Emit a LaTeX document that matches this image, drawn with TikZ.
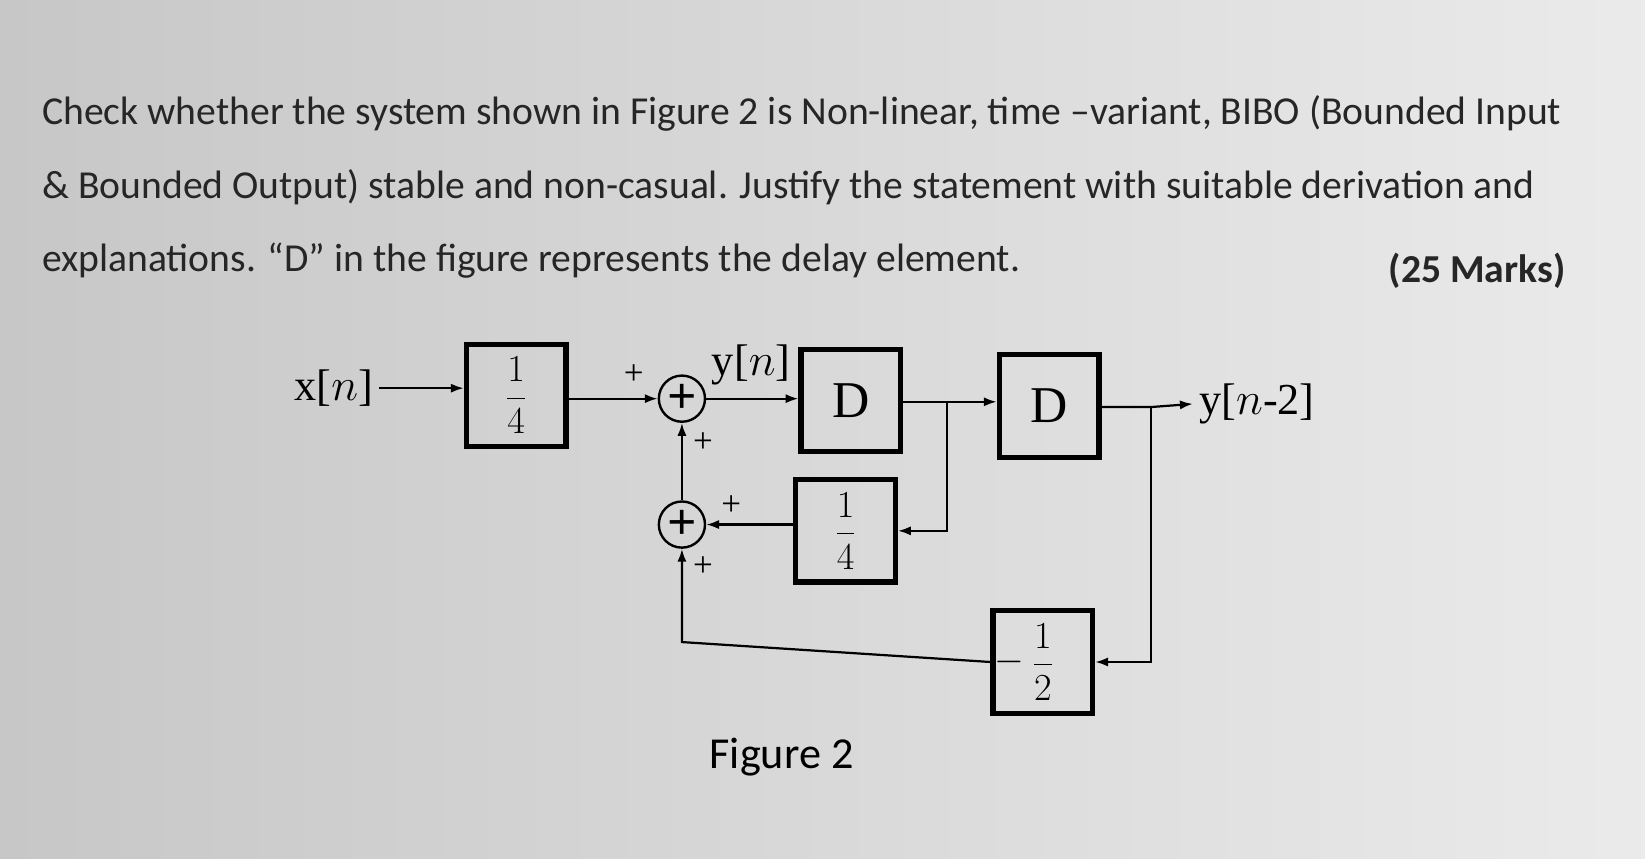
\documentclass[tikz,border=0pt]{standalone}
\usepackage{fontspec}
\setmainfont{Liberation Serif}
\newfontfamily\txtfont{Carlito}
\usetikzlibrary{arrows.meta}
\begin{document}
\begin{tikzpicture}[x=0.02cm,y=-0.02cm,
  blk/.style={draw,line width=2.8pt,minimum width=1.9cm,minimum height=1.95cm,inner sep=0pt,font=\fontsize{22}{24}\selectfont},
  sumnode/.style={draw,circle,line width=1.3pt,minimum size=0.88cm,inner sep=0pt,font=\fontsize{28}{28}\selectfont\bfseries},
  wire/.style={line width=1.2pt},
  arr/.style={wire,-{Latex[length=7pt,width=5pt]}},
  sgn/.style={font=\fontsize{19}{19}\selectfont},
  qtxt/.style={anchor=west,font=\txtfont\fontsize{21.5}{24}\selectfont,text=black!85}]
\useasboundingbox (0,0) rectangle (1568,818);
\shade[left color=black!22,right color=black!8] (0,0) rectangle (1568,818);
% question text
\node[qtxt] (l1) at (34,108) {Check whether the system shown in Figure 2 is Non-linear, time \textendash variant, BIBO (Bounded Input};
\node[qtxt] (l2) at (34,178) {\& Bounded Output) stable and non-casual. Justify the statement with suitable derivation and};
\node[qtxt] (l3) at (34,248) {explanations. “D” in the figure represents the delay element.};
\node[qtxt,font=\txtfont\bfseries\fontsize{21.5}{24}\selectfont,anchor=center] (mk) at (1408,258) {(25 Marks)};
% diagram
\node[font=\fontsize{24}{24}\selectfont] (x) at (318,370) {x[$n$]};
\node[blk] (g1) at (492,377) {$\displaystyle\frac{1}{4}$};
\node[sumnode] (s1) at (650,380) {+};
\node[blk,font=\fontsize{28}{28}\selectfont] (d1) at (811,382) {D};
\node[blk,font=\fontsize{28}{28}\selectfont] (d2) at (1000,387) {D};
\node[font=\fontsize{24}{24}\selectfont,anchor=west] (y2) at (1137,385) {y[$n$-2]};
\node[blk] (g2) at (806,506) {$\displaystyle\frac{1}{4}$};
\node[sumnode] (s2) at (650,500) {+};
\node[blk] (g3) at (994,631) {$\displaystyle\frac{1}{2}$};
\node[font=\fontsize{22}{22}\selectfont,inner sep=0pt] (mn) at (962,631) {$-$};
\node[font=\fontsize{24}{24}\selectfont] (yn) at (716,348) {y[$n$]};
\node[font=\txtfont\fontsize{24}{24}\selectfont] (fig) at (745,722) {Figure 2};
\node[sgn] (p1) at (604,357) {+};
\node[sgn] (p2) at (670,422) {+};
\node[sgn] (p3) at (697,482) {+};
\node[sgn] (p4) at (670,540) {+};
\coordinate (b1) at (903,383);
\coordinate (b2) at (1097,388);
\coordinate (c3) at (650,612);
\draw[arr] (x.east) -- (x.east -| g1.west);
\draw[arr] (s1.west -| g1.east) -- (s1.west);
\draw[arr] (s1.east) -- (s1.east -| d1.west);
\draw[arr] (d1.east |- b1) -- (b1) -- (b1 -| d2.west);
\draw[arr] (d2.east |- b2) -- (b2) -- (y2.west);
\draw[arr] (b1) |- (g2.east);
\draw[arr] (b2) |- (g3.east);
\draw[arr] (s2.east -| g2.west) -- (s2.east);
\draw[arr] (s2.north) -- (s1.south);
\draw[arr] (g3.west) -- (c3) -- (s2.south);
\end{tikzpicture}
\end{document}
